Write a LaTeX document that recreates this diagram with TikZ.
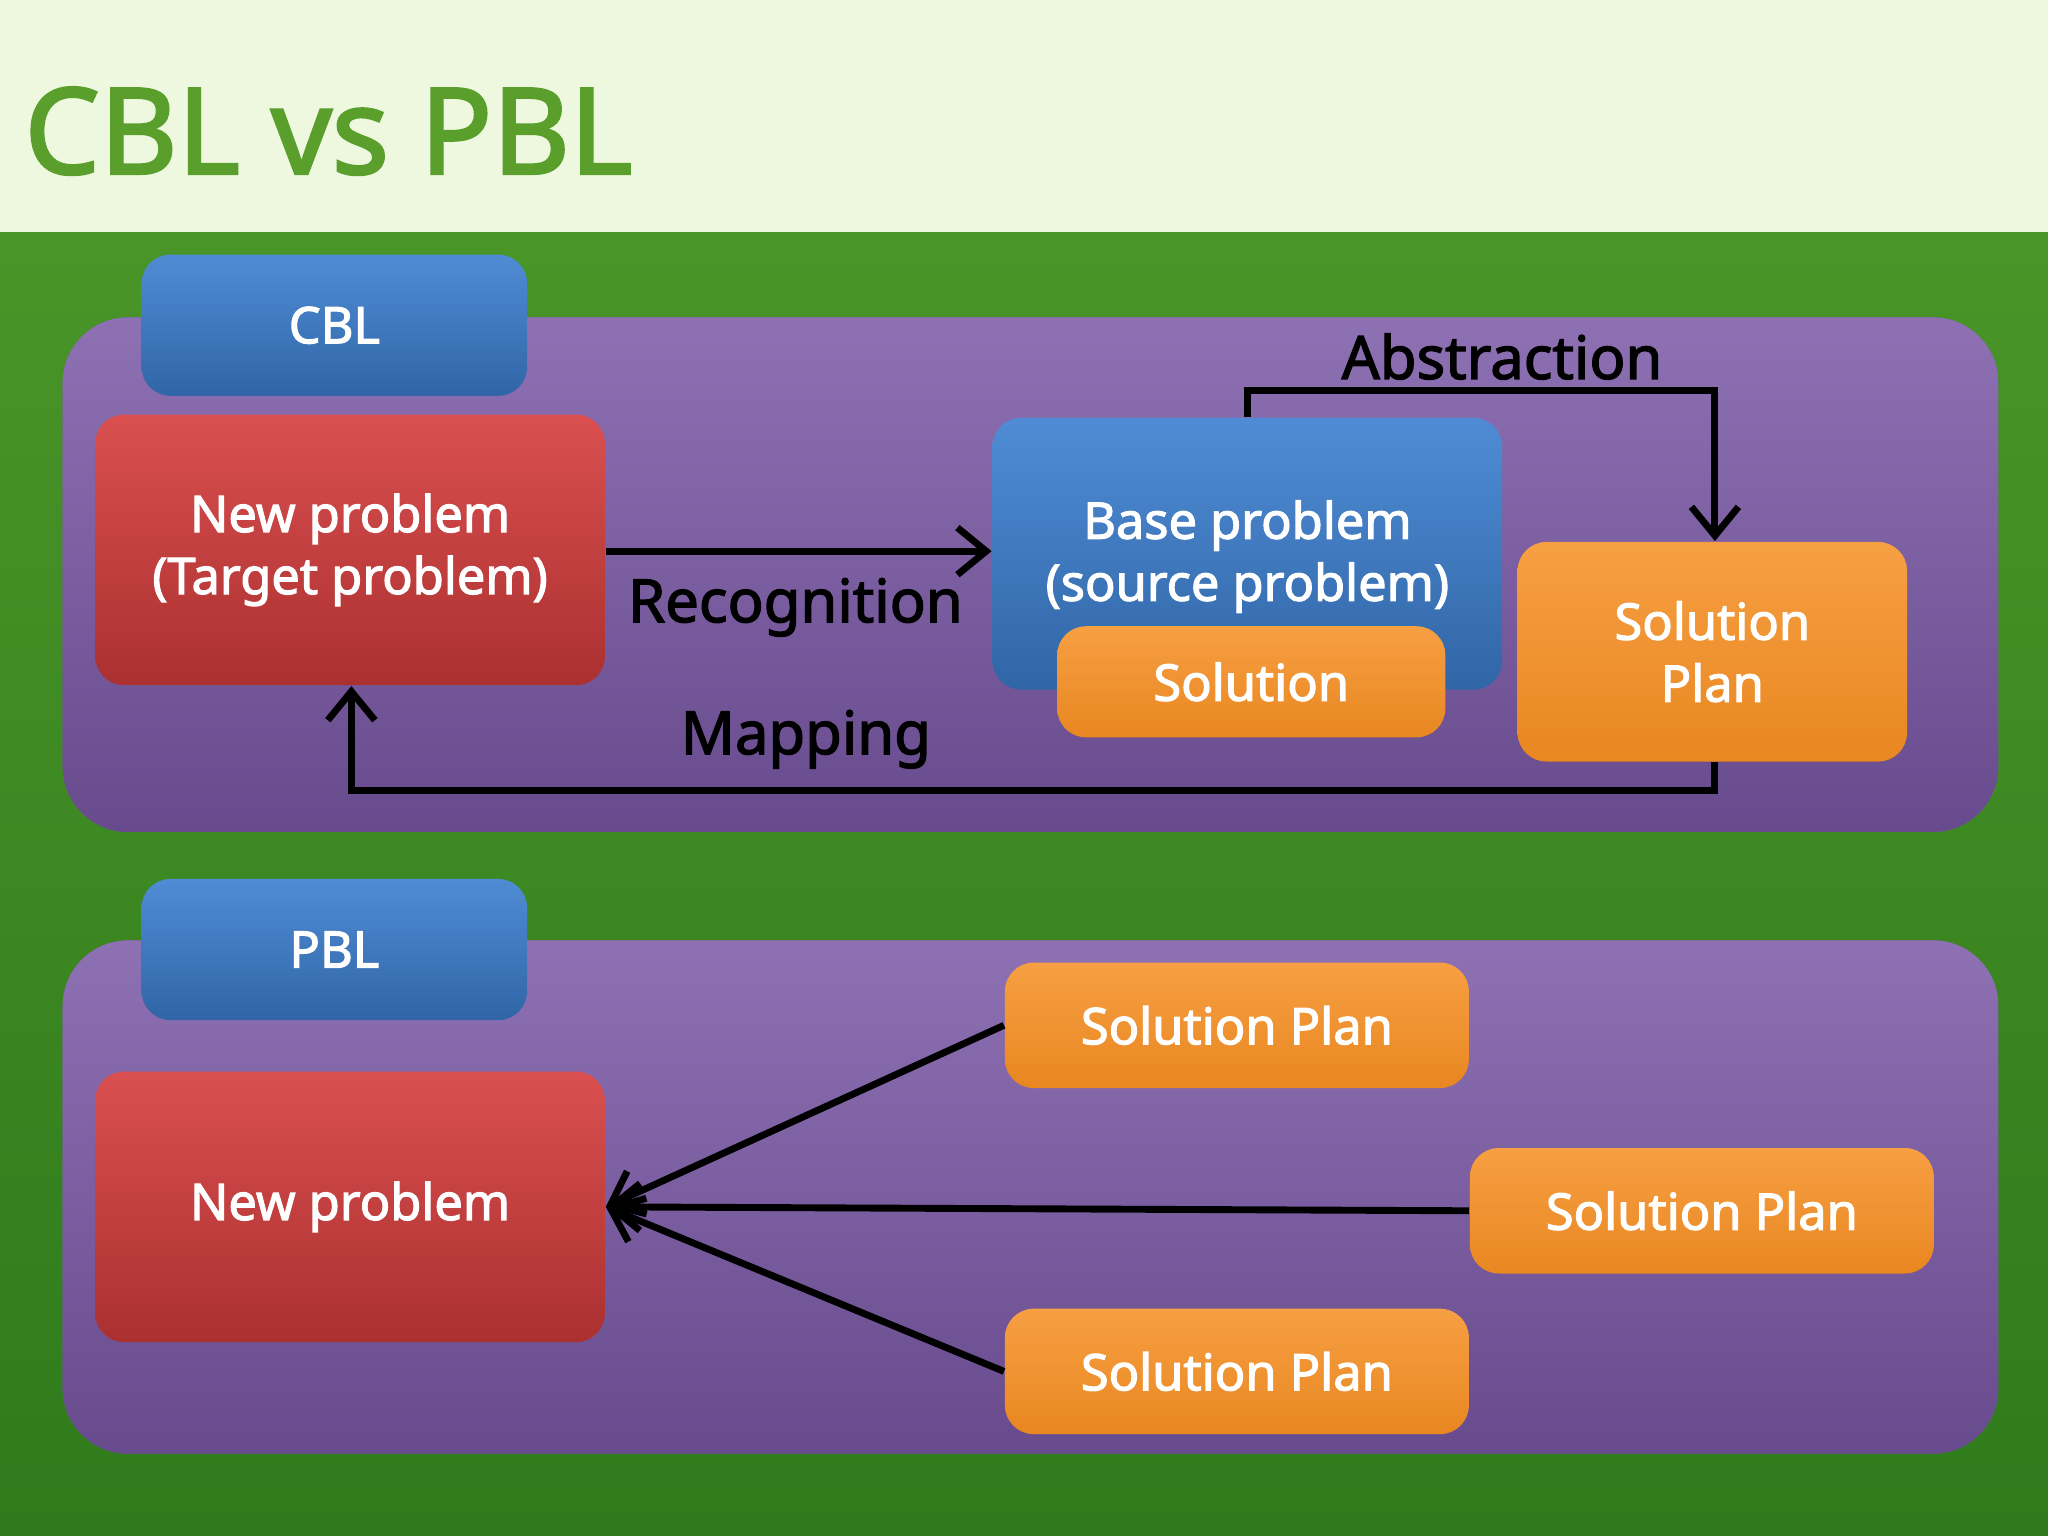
\documentclass[tikz,border=0pt]{standalone}
\usepackage{fontspec}
\setmainfont[AutoFakeBold=2.2]{Noto Sans}
\usetikzlibrary{arrows.meta,positioning}
\definecolor{grass}{HTML}{4E9A2A}
\definecolor{grassdark}{HTML}{2F7A1C}
\definecolor{band}{HTML}{EEF8DE}
\definecolor{titlegreen}{HTML}{5A9E2C}
\definecolor{panel}{HTML}{7A58A6}
\definecolor{boxred}{HTML}{D63C3C}
\definecolor{boxblue}{HTML}{3C7FD0}
\definecolor{boxorange}{HTML}{F58E22}
\tikzset{
  panelbox/.style={rounded corners=0.5cm, fill=panel, top color=panel!85!white, bottom color=panel!85!black, draw=none},
  box/.style={rounded corners=0.22cm, draw=none, align=center, text=white, font=\fontsize{11}{13.5}\selectfont\bfseries, inner sep=0pt},
  redbox/.style={box, top color=boxred!90!white, bottom color=boxred!80!black, minimum width=3.9cm, minimum height=2.07cm},
  bluebox/.style={box, top color=boxblue!90!white, bottom color=boxblue!80!black},
  orangebox/.style={box, top color=boxorange!85!white, bottom color=boxorange!95!black},
  tab/.style={bluebox, minimum width=2.95cm, minimum height=1.08cm},
  plan/.style={orangebox, minimum width=3.55cm, minimum height=0.96cm},
  link/.style={line width=1.5pt, -{Straight Barb[length=2.2mm,width=3.6mm,line width=1.5pt]}},
  lbl/.style={font=\fontsize{13}{16}\selectfont\bfseries, text=black, inner sep=0pt}
}
\begin{document}
\begin{tikzpicture}[x=0.01cm,y=-0.01cm]
\useasboundingbox (0,0) rectangle (1568,1176);
% background
\fill[top color=grass, bottom color=grassdark] (0,0) rectangle (1568,1176);
\fill[band] (0,0) rectangle (1568,178);
\node[anchor=base west, text=titlegreen, font=\fontsize{26}{30}\selectfont\bfseries, inner sep=0pt] (title) at (18,133) {CBL vs PBL};

% CBL panel
\fill[panelbox] (48,243) rectangle (1530,637);
\node[tab] (cbltab) at (256,249) {CBL};
\node[redbox] (newprob) at (268,421) {New problem\\(Target problem)};
\node[bluebox, minimum width=3.9cm, minimum height=2.08cm, text depth=0.05cm] (base) at (955,424) {Base problem\\(source problem)};
\node[orangebox, minimum width=2.97cm, minimum height=0.85cm] (sol) at (958,522) {Solution};
\node[orangebox, minimum width=2.98cm, minimum height=1.68cm] (splan) at (1311,499) {Solution\\Plan};
\draw[link] (newprob.east |- 0,422) -- (base.west |- 0,422);
\node[lbl] (recog) at (609,465) {Recognition};
\coordinate (abs1) at (955,299);
\coordinate (abs2) at (1313,299);
\draw[link] (base.north) -- (abs1) -- (abs2) -- (splan.north -| abs2);
\node[lbl] (abstr) at (1150,273) {Abstraction};
\coordinate (map1) at (1313,605);
\coordinate (map2) at (269,605);
\draw[link] (splan.south -| map1) -- (map1) -- (map2) -- (newprob.south -| map2);
\node[lbl] (mapping) at (617,566) {Mapping};

% PBL panel
\fill[panelbox] (48,720) rectangle (1530,1113);
\node[tab] (pbltab) at (256,727) {PBL};
\node[redbox] (newprob2) at (268,924) {New problem};
\node[plan] (plan1) at (947,785) {Solution Plan};
\node[plan] (plan2) at (1303,927) {Solution Plan};
\node[plan] (plan3) at (947,1050) {Solution Plan};
\foreach \p in {plan1,plan2,plan3}
  \draw[link] (\p.west) -- (newprob2.east);
\end{tikzpicture}
\end{document}
